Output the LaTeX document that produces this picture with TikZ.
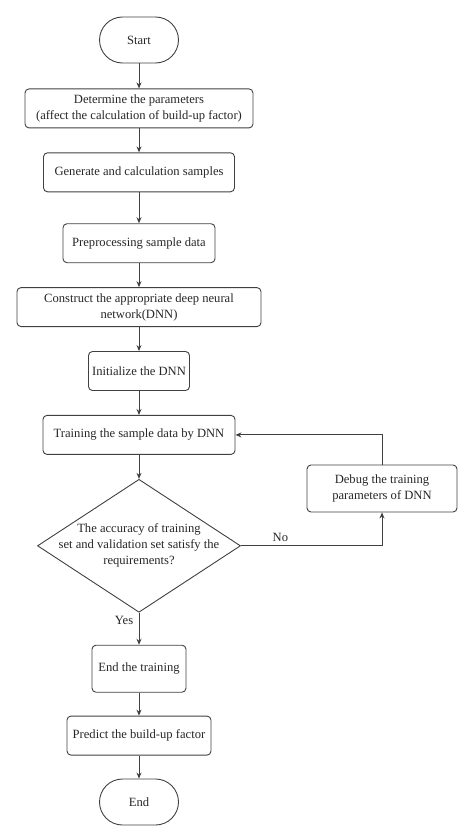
\documentclass[tikz,border=0pt]{standalone}
\usepackage{fontspec}
\setmainfont{Liberation Serif}
\usetikzlibrary{shapes.geometric, arrows.meta, positioning}
\tikzset{
  base/.style = {
    draw=black!75, line width=0.9pt, font=\fontsize{12.6}{16}\selectfont,
    align=center, text=black!85, rounded corners=4pt,
    minimum height=39pt, inner xsep=2pt, inner ysep=0pt
  },
  terminal/.style = {
    base, rounded corners=23pt, minimum width=79pt, minimum height=46pt
  },
  process/.style = {
    base
  },
  decision/.style = {
    diamond, draw=black!75, line width=0.9pt, inner sep=0pt,
    minimum width=203pt, minimum height=133pt
  },
  arrow/.style = {
    line width=0.9pt, draw=black!75, -{Stealth[length=6pt,width=5pt]}
  },
  tag/.style = {
    font=\fontsize{12.6}{16}\selectfont, text=black!85
  }
}

\begin{document}
\begin{tikzpicture}[x=1pt, y=-1pt, node distance=24pt]
  \useasboundingbox (0,0) rectangle (474,835);

  % Main column
  \node[terminal] (start) at (139,40) {Start};
  \node[process, minimum width=228pt, below=25pt of start] (params)
    {Determine the parameters\\(affect the calculation of build-up factor)};
  \node[process, minimum width=191pt, below=of params] (samples)
    {Generate and calculation samples};
  \node[process, minimum width=152pt, below=31pt of samples] (preproc)
    {Preprocessing sample data};
  \node[process, minimum width=244pt, below=of preproc] (build)
    {Construct the appropriate deep neural\\network(DNN)};
  \node[process, minimum width=101pt, below=of build] (init)
    {Initialize the DNN};
  \node[process, minimum width=192pt, below=of init] (train)
    {Training the sample data by DNN};
  \node[decision, below=of train,
    label={[tag, align=center]center:The accuracy of training\\set and validation set satisfy the\\requirements?}] (check) {};
  \node[process, minimum width=94pt, minimum height=47pt, below=32pt of check] (stop)
    {End the training};
  \node[process, minimum width=144pt, below=23pt of stop] (predict)
    {Predict the build-up factor};
  \node[terminal, below=23pt of predict] (finish) {End};

  % Side branch
  \node[process, minimum width=150pt, minimum height=47pt] (debug) at (382,488.5)
    {Debug the training\\parameters of DNN};

  % Arrows down the column
  \draw[arrow] (start) -- (params);
  \draw[arrow] (params) -- (samples);
  \draw[arrow] (samples) -- (preproc);
  \draw[arrow] (preproc) -- (build);
  \draw[arrow] (build) -- (init);
  \draw[arrow] (init) -- (train);
  \draw[arrow] (train) -- (check);
  \draw[arrow] (check) -- node[tag, pos=0.25, left=2pt] {Yes} (stop);
  \draw[arrow] (stop) -- (predict);
  \draw[arrow] (predict) -- (finish);

  % Loop back
  \draw[arrow] (check.east) -| node[tag, pos=0.14, above] {No} (debug.south);
  \draw[arrow] (debug.north) |- (train.east);

\end{tikzpicture}
\end{document}
